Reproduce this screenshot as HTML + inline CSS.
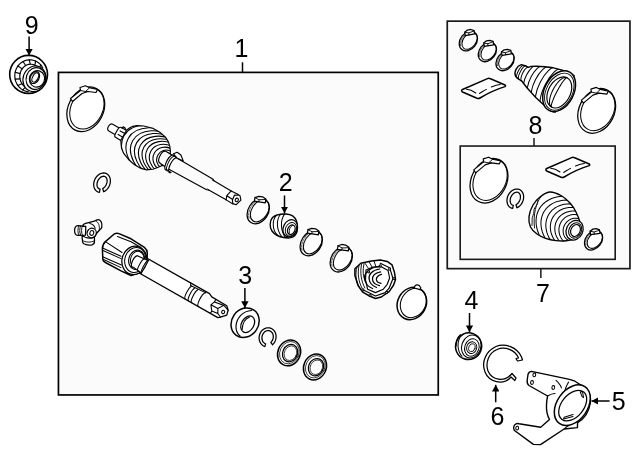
<!DOCTYPE html>
<html><head><meta charset="utf-8">
<style>
html,body{margin:0;padding:0;background:#fff;width:640px;height:471px;overflow:hidden}
svg{position:absolute;left:0;top:0;display:block}
text{font-family:"Liberation Sans",sans-serif;font-size:25px;fill:#000}
svg{transform:translateZ(0)}
</style></head><body>
<svg width="640" height="471" viewBox="0 0 640 471">
<defs>
<marker id="ah" viewBox="0 0 10 10" refX="10" refY="5" markerWidth="6.8" markerHeight="7.4" preserveAspectRatio="none" markerUnits="userSpaceOnUse" orient="auto"><path d="M0,0 L10,5 L0,10 Z" fill="#000"/></marker>
</defs>
<g fill="none" stroke="#000" stroke-width="1.5">
<rect x="58.45" y="72.4" width="379.8" height="322.55" fill="#fbfbfb" stroke-width="1.7"/>
<rect x="447.25" y="21.15" width="182.7" height="247.5" fill="#fbfbfb" stroke="#1a1a1a" stroke-width="1.7"/>
<rect x="460.2" y="146.05" width="155" height="113.3" fill="#fbfbfb" stroke="#1a1a1a" stroke-width="1.6"/>
<line x1="242.5" y1="62.3" x2="242.5" y2="72.4"/>
<line x1="534" y1="138" x2="534" y2="146" stroke="#1a1a1a"/>
<line x1="540.85" y1="269" x2="540.85" y2="278.1" stroke="#1a1a1a"/>
</g>
<text x="31.6" y="33.5" text-anchor="middle">9</text>
<text x="241.5" y="57.3" text-anchor="middle">1</text>
<text x="285.8" y="191.3" text-anchor="middle">2</text>
<text x="245.2" y="283.8" text-anchor="middle">3</text>
<text x="471.4" y="308.8" text-anchor="middle">4</text>
<text x="618.7" y="409.8" text-anchor="middle">5</text>
<text x="497.4" y="424.5" text-anchor="middle">6</text>
<text x="543" y="302" text-anchor="middle">7</text>
<text x="535.5" y="134" text-anchor="middle">8</text>
<g stroke="#000" stroke-width="1.5" fill="none">
<line x1="29.1" y1="36.5" x2="29.1" y2="55.6" marker-end="url(#ah)"/>
<line x1="284.5" y1="195.5" x2="284.5" y2="213.3" marker-end="url(#ah)"/>
<line x1="244.9" y1="288" x2="244.9" y2="308" marker-end="url(#ah)"/>
<line x1="469.5" y1="313" x2="469.5" y2="332.2" marker-end="url(#ah)"/>
<line x1="609.6" y1="401" x2="591.5" y2="401" marker-end="url(#ah)"/>
<line x1="495.7" y1="402.3" x2="495.7" y2="384.8" marker-end="url(#ah)"/>
</g>
<g fill="#fff" stroke="#000" stroke-width="1.15" stroke-linejoin="round" stroke-linecap="round">
<!-- part 9 --><g>
<ellipse cx="28.6" cy="74.4" rx="18.9" ry="19" transform="rotate(0 28.6 74.4)" stroke-width="1.61"/>
<path d="M28.49,91.74 L26.47,91.4 L24.51,90.77 L22.64,89.86 L20.91,88.69 L19.35,87.28 L17.98,85.65 L16.83,83.84 L15.93,81.88 L15.28,79.81 L14.9,77.66 L14.8,75.47 L14.98,73.3 L15.44,71.17 L16.17,69.12 L17.15,67.2 L18.37,65.44 L19.8,63.88 L21.41,62.54 L23.19,61.44 L25.08,60.61 L27.07,60.07 L29.1,59.82 L31.15,59.87 L33.17,60.21 L35.13,60.85 L37,61.76 L38.72,62.94 L40.28,64.36 L41.65,65.99 L42.79,67.8" fill="none" stroke-width="1.15"/>
<path d="M29.66,88.55 L28.2,88.3 L26.79,87.81 L25.45,87.12 L24.2,86.23 L23.08,85.15 L22.09,83.91 L21.26,82.53 L20.61,81.04 L20.14,79.45 L19.87,77.82 L19.8,76.15 L19.93,74.49 L20.26,72.87 L20.79,71.31 L21.49,69.84 L22.37,68.5 L23.4,67.31 L24.56,66.29 L25.84,65.45 L27.2,64.82 L28.63,64.4 L30.1,64.21 L31.57,64.25 L33.03,64.51 L34.44,65 L35.78,65.7 L37.02,66.59 L38.15,67.67 L39.13,68.92 L39.95,70.3" fill="none" stroke-width="1.15"/>
<path d="M22.76,89.93 L25.53,87.17 M17.82,85.43 L21.97,83.74 M15.13,79.13 L20.04,78.94 M15.18,72.2 L20.08,73.66 M17.98,65.95 L22.09,68.89 M22.99,61.54 L25.7,65.53 M29.28,59.81 L30.22,64.21 M35.66,61.07 L34.82,65.17 M40.95,65.09 L38.63,68.24 " fill="none" stroke-width="1.15"/>
<ellipse cx="34.5" cy="78.8" rx="11.4" ry="13" transform="rotate(20 34.5 78.8)" />
<ellipse cx="35.8" cy="78.5" rx="9.6" ry="11" transform="rotate(20 35.8 78.5)" fill="none"/>
<ellipse cx="37" cy="78.9" rx="7.6" ry="8.3" transform="rotate(20 37 78.9)" />
<ellipse cx="34.8" cy="77.6" rx="4.3" ry="6.3" transform="rotate(28 34.8 77.6)" />
<ellipse cx="35.3" cy="77.5" rx="2.7" ry="5" transform="rotate(28 35.3 77.5)" fill="none" stroke-width="1.03"/>
</g>
<g id="bigclamp"><ellipse cx="85.8" cy="109.3" rx="17.6" ry="23.4" transform="rotate(27 85.8 109.3)" stroke-width="1.26"/>
<ellipse cx="86.9" cy="108.5" rx="15.8" ry="21.6" transform="rotate(27 86.9 108.5)" fill="none" stroke-width="1.03"/>
<path d="M70.5,98.5 L80.5,90.5 L80,87.5 L85.5,85.8 L89.5,87.8 L97.5,89.5 L96,92.5 L88,91.5 L82,93.5 L72.5,101.5 Z"/>
<path d="M80.5,90.5 L85.5,91.5 L89.5,87.8 M85.5,91.5 L88,91.5" fill="none" stroke-width="0.92"/></g>
<use href="#bigclamp" transform="translate(403.2,71.4)"/>
<use href="#bigclamp" transform="translate(510.9,1.6)"/>
<!-- upper shaft -->
<g transform="translate(108.1,126.2) rotate(29.5)">
<clipPath id="bootclip"><path d="M18,-5.5 19.5,-9 21.5,-12 25,-14.8 31,-17.8 40,-20.2 48,-20.2 55,-18.8 60,-16.2 63.5,-13 66.5,-9 68.5,-5 68.5,6.5 66,8 63,12 60,15.5 55,19 49.5,20.5 42,20.5 34.5,19 27,16 22.5,12.5 20,9 18,6 Z"/></clipPath>
<path d="M12,-4 L3,-4 A2.6,3.9 0 0 0 3,3.8 L12,3.8"/>
<path d="M11.5,-5.2 L21,-5.6 L21,6.3 L11.5,6 A1.6,5.6 0 0 1 11.5,-5.2 Z"/>
<path d="M13,-5.3 L13.5,-7 L16,-6.8 L16.5,-5.4 M12.8,-1.8 L21,-2 M12.8,2.2 L21,2.4" fill="none"/>
<path d="M117,-4.6 L139,-4.3 L147,-4.6 L147,6.2 L139,6 L117,6" />
<path d="M72,-6.2 L117,-5.6 L119,-4.6 M119,6 L117,6.8 L72,7.5" />
<path d="M139,-4.3 L137.5,2 L139,6 M137.5,2 L146,2.5" fill="none"/>
<path d="M144,-2.4 L148.7,-4.8 L152,-1 L150.2,5.2 L146.7,6 L144.5,3 Z"/>
<ellipse cx="148.3" cy="0.8" rx="1.5" ry="1.8"/>
<path d="M18,-5.5 19.5,-9 21.5,-12 25,-14.8 31,-17.8 40,-20.2 48,-20.2 55,-18.8 60,-16.2 63.5,-13 66.5,-9 68.5,-5 68.5,6.5 66,8 63,12 60,15.5 55,19 49.5,20.5 42,20.5 34.5,19 27,16 22.5,12.5 20,9 18,6 Z"/>
<g clip-path="url(#bootclip)"><path d="M66.5,-6.5 A5.5,7.0 0 0 0 66.5,7.5 M66.5,-9.0 A9.0,9.5 0 0 0 66.5,10.0 M66.5,-11.5 A13.0,12.0 0 0 0 66.5,12.5 M66.5,-14.0 A17.0,14.5 0 0 0 66.5,15.0 M66.5,-16.5 A21.0,17.0 0 0 0 66.5,17.5 M66.5,-18.5 A25.0,19.0 0 0 0 66.5,19.5 M66.5,-20.5 A29.0,21.0 0 0 0 66.5,21.5 M66.5,-22.5 A33.5,23.0 0 0 0 66.5,23.5 M66.5,-24.5 A38.0,25.0 0 0 0 66.5,25.5 M66.5,-26.5 A43.0,27.0 0 0 0 66.5,27.5 M66.5,-28.5 A48.0,29.0 0 0 0 66.5,29.5 " fill="none" stroke-width="1.09"/></g>
<path d="M62.5,-6.6 L72,-6.3 L72,7.3 L63.5,6.5 A3.3,6.6 0 0 1 62.5,-6.6 Z"/>
<path d="M70.5,-8.2 L73,-11.3 L77.5,-10.8 L82.5,-6.8 L75.5,-6.2 Z"/>
<path d="M70.3,-6.8 A3,8 0 0 0 72.8,9 L77.5,9.3 A3,8.2 0 0 1 74.8,-6.4 Z"/>
<path d="M72.3,-6.6 A3,8 0 0 0 74.8,9.1" fill="none" stroke-width="0.92"/>
</g>
<path d="M99.36,192.35 L98.26,192.05 L97.23,191.56 L96.31,190.89 L95.5,190.05 L94.83,189.06 L94.3,187.93 L93.94,186.7 L93.75,185.38 L93.73,184.01 L93.88,182.61 L94.2,181.21 L94.68,179.84 L95.31,178.54 L96.08,177.32 L96.98,176.21 L97.98,175.23 L99.07,174.41 L100.22,173.76 L101.4,173.3 L102.6,173.03 L103.79,172.96 L104.94,173.09 L106.03,173.42 L107.04,173.95 L107.95,174.65 L108.73,175.52 L109.38,176.54 L109.87,177.69 L110.21,178.94 L110.37,180.27 L110.36,181.65 L110.18,183.05 L109.83,184.44 L109.32,185.8 L108.66,187.09 L107.86,188.29 L106.94,189.38 L105.92,190.33 L104.83,191.12 L103.67,191.74 L102.7,188.58 L103.42,188.14 L104.1,187.58 L104.75,186.92 L105.33,186.17 L105.85,185.35 L106.29,184.48 L106.65,183.57 L106.9,182.64 L107.06,181.72 L107.11,180.81 L107.06,179.94 L106.91,179.13 L106.65,178.4 L106.3,177.75 L105.86,177.21 L105.34,176.77 L104.76,176.47 L104.12,176.29 L103.43,176.24 L102.72,176.33 L101.99,176.55 L101.26,176.89 L100.56,177.36 L99.88,177.93 L99.24,178.61 L98.67,179.37 L98.16,180.2 L97.74,181.08 L97.4,182 L97.16,182.92 L97.02,183.85 L96.99,184.75 L97.06,185.61 L97.23,186.41 L97.51,187.13 L97.87,187.76 L98.33,188.28 L98.86,188.69 L99.46,188.98 L100.11,189.13 Z" stroke-width="1.26"/>
<ellipse cx="258.25" cy="211.2" rx="10" ry="13.5" transform="rotate(33 258.25 211.2)" stroke-width="1.26"/>
<ellipse cx="259.74" cy="210.79" rx="7.97" ry="12.15" transform="rotate(33 259.74 210.79)" fill="none" stroke-width="1.03"/>
<path d="M249.14,217.95 L248.9,217.02 L248.75,216.03 L248.69,214.99 L248.72,213.93 L248.85,212.83 L249.06,211.72 L249.37,210.61 L249.76,209.5 L250.23,208.4 L250.77,207.33 L251.39,206.29 L252.08,205.29 L252.83,204.34 L253.63,203.46 L254.48,202.64 L255.37,201.9 L256.3,201.24 L257.24,200.66 L258.2,200.18 L259.17,199.8 L260.13,199.52 L261.09,199.34 L262.02,199.26 L262.93,199.3" fill="none" stroke-width="0.69" stroke-dasharray="2 1.2"/>
<path d="M254.45,201.22 L254.96,197.56 L258.75,196.28 L262.56,196.81 L265.85,199.09 L265.34,202.76 Z" stroke-width="1.26"/>
<path d="M254.96,197.56 L259.09,199.76 L265.8,199.49 M259.09,199.76 L258.8,201.84" fill="none" stroke-width="0.92"/>
<ellipse cx="311.25" cy="243.2" rx="10" ry="13.5" transform="rotate(33 311.25 243.2)" stroke-width="1.26"/>
<ellipse cx="312.74" cy="242.79" rx="7.97" ry="12.15" transform="rotate(33 312.74 242.79)" fill="none" stroke-width="1.03"/>
<path d="M302.14,249.95 L301.9,249.02 L301.75,248.03 L301.69,246.99 L301.72,245.93 L301.85,244.83 L302.06,243.72 L302.37,242.61 L302.76,241.5 L303.23,240.4 L303.77,239.33 L304.39,238.29 L305.08,237.29 L305.83,236.34 L306.63,235.46 L307.48,234.64 L308.37,233.9 L309.3,233.24 L310.24,232.66 L311.2,232.18 L312.17,231.8 L313.13,231.52 L314.09,231.34 L315.02,231.26 L315.93,231.3" fill="none" stroke-width="0.69" stroke-dasharray="2 1.2"/>
<path d="M307.45,233.22 L307.96,229.56 L311.75,228.28 L315.56,228.81 L318.85,231.09 L318.34,234.76 Z" stroke-width="1.26"/>
<path d="M307.96,229.56 L312.09,231.76 L318.8,231.49 M312.09,231.76 L311.8,233.84" fill="none" stroke-width="0.92"/>
<ellipse cx="341.25" cy="259.4" rx="10" ry="13.5" transform="rotate(33 341.25 259.4)" stroke-width="1.26"/>
<ellipse cx="342.74" cy="259" rx="7.97" ry="12.15" transform="rotate(33 342.74 259)" fill="none" stroke-width="1.03"/>
<path d="M332.14,266.15 L331.9,265.22 L331.75,264.23 L331.69,263.19 L331.72,262.13 L331.85,261.03 L332.06,259.92 L332.37,258.81 L332.76,257.7 L333.23,256.6 L333.77,255.53 L334.39,254.49 L335.08,253.49 L335.83,252.54 L336.63,251.66 L337.48,250.84 L338.37,250.1 L339.3,249.44 L340.24,248.86 L341.2,248.38 L342.17,248 L343.13,247.72 L344.09,247.54 L345.02,247.46 L345.93,247.5" fill="none" stroke-width="0.69" stroke-dasharray="2 1.2"/>
<path d="M337.45,249.42 L337.96,245.76 L341.75,244.48 L345.56,245.01 L348.85,247.29 L348.34,250.96 Z" stroke-width="1.26"/>
<path d="M337.96,245.76 L342.09,247.96 L348.8,247.69 M342.09,247.96 L341.8,250.04" fill="none" stroke-width="0.92"/>
<!-- part2 --><g>
<path d="M272.5,217.5 C276,214.5 281,213.8 286,214 C291,214.3 295,217 296.5,221 C298,225 297.8,231 296,234 C294,237.5 289,238.5 284,237.5 C279,236.8 274.5,234.5 272,231 C269.5,227.5 269.5,221 272.5,217.5 Z" stroke-width="1.38"/>
<path d="M276.5,215.2 C272,220 272,230 277.5,235.2 M280.5,214.3 C276,220 276.5,230 281.5,236.4 M284.5,214.1 C280,220.5 280.5,231 285.5,237.6" fill="none" stroke-width="1.03"/>
<ellipse cx="290.2" cy="228.3" rx="6.9" ry="8.9" transform="rotate(25 290.2 228.3)" stroke-width="1.26"/>
<ellipse cx="290.9" cy="229.2" rx="5.4" ry="7" transform="rotate(25 290.9 229.2)" fill="none" stroke-width="0.92"/>
<ellipse cx="291.3" cy="229.7" rx="3.6" ry="4.9" transform="rotate(25 291.3 229.7)" stroke-width="1.26"/>
<path d="M292.5,225.3 C290,226.5 288.8,229.5 289.2,233" fill="none" stroke-width="0.92"/>
</g>
<!-- outboard boot --><g>
<path d="M354.9,268.7 L360.8,263.3 L371.5,260.9 L380.3,259.9 L387.2,261.4 L392,264.8 L394.5,272.6 L395.5,279.4 L393.5,285.3 L389.1,291.6 L381.3,297 L375.4,298.5 L369.6,296 L362.7,292.1 L357.9,285.3 L354.9,275.5 Z" stroke-width="1.49"/>
<path d="M380.3,263.3 L389.6,267.7 L393,278.5 L389.1,288.2 L385.2,292.6 L375.4,296 L368.6,292.6 L362.7,289.7" fill="none" stroke-width="1.15"/>
<path d="M366,270 L373,267 L381.3,266.7 L388.1,270.6 L389.6,278 L387.2,284.3 L383.3,289.2 L375.4,292.6 L367.6,289.2 L365.5,280 Z" stroke-width="1.15"/>
<path d="M378.9,266.3 C369,267.5 363.8,273.5 364.7,279 C365.5,284 368.5,287 372.5,288.5 M379.6,269 C372,270.2 368.5,274.5 369.1,279 C369.6,283 372,285.8 376.5,287.5 M380.6,271.8 C375,273 372.2,276 372.5,279.5 C372.8,282.5 375,284.5 379.5,285.6 M381.5,274.3 C378,275.3 376.2,277.5 376.4,279.8 C376.6,281.5 378,282.8 381,283.4" fill="none" stroke-width="1.26"/>
<path d="M357,267 C355,274 355.5,281 360.5,289.5 M359,265.5 C357.5,273 358,281 362.5,289 M361.5,264.5 C360,272 360.8,280 364.8,288 M364,264 C362.5,270 363,277 365.5,282" fill="none" stroke-width="0.92"/>
<path d="M364.5,262.5 L368.5,268.5 M369,261.5 L372,267 M374,261 L376,266.8" fill="none" stroke-width="0.92"/>
<ellipse cx="380.3" cy="265.8" rx="1" ry="1.1" transform="rotate(0 380.3 265.8)" stroke-width="1.03"/>
<ellipse cx="389.6" cy="268.9" rx="1" ry="1.1" transform="rotate(0 389.6 268.9)" stroke-width="1.03"/>
<ellipse cx="394" cy="278.5" rx="1" ry="1.1" transform="rotate(0 394 278.5)" stroke-width="1.03"/>
<ellipse cx="386.7" cy="292.3" rx="1" ry="1.1" transform="rotate(0 386.7 292.3)" stroke-width="1.03"/>
<ellipse cx="370.1" cy="295.6" rx="1" ry="1.1" transform="rotate(0 370.1 295.6)" stroke-width="1.03"/>
<ellipse cx="362.9" cy="289.9" rx="1" ry="1.1" transform="rotate(0 362.9 289.9)" stroke-width="1.03"/>
<ellipse cx="368.6" cy="271.8" rx="1" ry="1.1" transform="rotate(0 368.6 271.8)" stroke-width="1.03"/>
</g>
<ellipse cx="411.86" cy="303.49" rx="14.24" ry="16.68" transform="rotate(28 411.86 303.49)" stroke-width="1.49"/>
<ellipse cx="413.3" cy="303" rx="12.3" ry="15.2" transform="rotate(28 413.3 303)" fill="none" stroke-width="1.03"/>
<path d="M414.2,288 L415,285.8 C416,284.8 418,284.8 419.3,285.6 L420.8,287.8 L420,289.6 Z" stroke-width="1.15"/>
<!-- tripod --><g>
<path d="M82,236 L82.6,242 C83,244.5 88,245.5 92,244.8 C94,244.3 94.6,243 94.5,241 L94.4,236.5 Z" stroke-width="1.26"/>
<path d="M82.8,240.5 C85,242.5 91,242.8 94.3,240.8" fill="none" stroke-width="0.92"/>
<path d="M83.2,224.5 C86,223 90,222.5 94.4,221.1 L97,219.9 C99,219 101,220.5 101.6,223 C102.2,226 101.6,228.5 100.5,229 L96,234 C95.5,236 94,237.8 91,238 C87,238.2 84,237 83,235.5 Z" stroke-width="1.26"/>
<path d="M96.3,221.2 C98.5,222 99.8,226 99.3,230" fill="none" stroke-width="0.92"/>
<path d="M89.8,223.6 C92.5,224.2 94.5,226 95.2,228.3" fill="none" stroke-width="1.03"/>
<path d="M85.8,226.5 L78,225.6 C75.5,225.5 74.6,228 74.6,230.4 C74.6,233 75.5,235.2 77.8,235.3 L85.5,235.2 Z" stroke-width="1.26"/>
<path d="M78.8,225.9 C77.6,228 77.6,232.8 78.8,235 M80.6,225.9 C79.4,228 79.4,232.8 80.6,235 M82.4,226 C81.2,228 81.2,233 82.4,235.1" fill="none" stroke-width="0.92"/>
<ellipse cx="91.7" cy="233" rx="4.6" ry="4.8" transform="rotate(20 91.7 233)" stroke-width="1.26"/>
<ellipse cx="91.8" cy="233" rx="1.9" ry="2.5" transform="rotate(20 91.8 233)" stroke-width="1.03"/>
</g>
<!-- lower shaft -->
<g transform="translate(223.3,310.95) rotate(29.5)">
<path d="M-101,-8.3 L-20.5,-8.3 L-17,-6.6 L0.5,-6.2 L3.8,-3.1 L5.1,2 L0.5,6.7 L-1.5,8.5 L-101,8.3 Z" stroke-width="1.26"/>
<path d="M-40,-6 A2,7.6 0 0 0 -39.2,8.3 M-36.2,-6.1 A2,7.6 0 0 0 -35.2,8.3 M-32.5,-6.3 A2,7.6 0 0 0 -31.5,8.3 M-24.5,-7.2 A2.2,7.8 0 0 0 -23.5,8.3" fill="none" stroke-width="1.03"/>
<path d="M-42,-8.3 L-41,-6 L-24,-7.2" fill="none" stroke-width="1.03"/>
<path d="M-12.2,-6.3 L-12.2,-3.5 L-13.8,0.8 L-10,5.7 L-10,8.4 M-13.8,0.8 L-6,0.5 M-12.2,-3.5 L-2.3,-5.1 M-6,0.5 L-2.3,-5.1 L3.8,-3.1 M-6,0.5 L-3.5,4.9 L0.5,6.7 M-10,5.7 L-3.5,4.9" fill="none" stroke-width="1.09"/>
<ellipse cx="0.4" cy="1" rx="1.5" ry="1.7" stroke-width="1.03"/>
</g>
<!-- housing --><g>
<path d="M114.5,233.8 C116,233 117.5,233 119,233.6 L131,238.8 L144.4,247.3 C146.5,249 147.3,251 147.3,253 L147,262 L141,272 L131,275.5 L121,270.8 L105.4,262.5 C103.5,261.5 102.8,260 102.8,258.5 L102.4,249 C102.4,246 103,243.8 105.4,241.6 Z" stroke-width="1.49"/>
<path d="M105.4,241.6 L122,252.5 M117.5,236.5 L131,241.8 L141,247.5 M102.5,248 L121,256.3 M103,250.5 L121,258.6 M102.7,256.8 L121.4,265 M103.6,259.5 L121,267.6" fill="none" stroke-width="1.03"/>
<ellipse cx="134.3" cy="260.4" rx="12.3" ry="14.3" transform="rotate(15 134.3 260.4)" stroke-width="1.26"/>
<ellipse cx="135.2" cy="260" rx="10.4" ry="12.6" transform="rotate(15 135.2 260)" fill="none" stroke-width="1.03"/>
<ellipse cx="136.6" cy="259.8" rx="7.8" ry="9.8" transform="rotate(15 136.6 259.8)" stroke-width="1.15"/>
<ellipse cx="137.2" cy="259.6" rx="6.6" ry="8.4" transform="rotate(15 137.2 259.6)" fill="none" stroke-width="0.92"/>
</g>
<g transform="translate(223.3,310.95) rotate(29.5)">
<path d="M-102,-5.8 L-90,-6.8 L-90,7.3 L-100,6.2 A2.5,6 0 0 1 -102,-5.8 Z" stroke-width="1.15"/>
<path d="M-94.6,-6.8 A2,7.5 0 0 0 -93.8,7.6 M-90.2,-7.3 A2,7.8 0 0 0 -89.5,7.9" fill="none" stroke-width="1.03"/>
</g>
<!-- bearing3 --><g>
<ellipse cx="245.1" cy="322.7" rx="13.4" ry="15.4" transform="rotate(35 245.1 322.7)" stroke-width="1.49"/>
<path d="M251.5,310.5 C243,311 236.5,318 236,326 C235.8,330 237,333.5 240,336" fill="none" stroke-width="1.15"/>
<ellipse cx="247.7" cy="324.2" rx="6.2" ry="8.9" transform="rotate(30 247.7 324.2)" stroke-width="1.26"/>
<path d="M249.6,317 C245.5,318.5 242.5,323 242.2,329.5" fill="none" stroke-width="1.03"/>
</g>
<path d="M264.83,346.49 L263.79,346.08 L262.81,345.51 L261.92,344.79 L261.14,343.94 L260.46,342.97 L259.91,341.9 L259.5,340.75 L259.24,339.54 L259.12,338.29 L259.15,337.02 L259.34,335.75 L259.67,334.52 L260.14,333.33 L260.75,332.21 L261.47,331.18 L262.31,330.27 L263.24,329.47 L264.25,328.82 L265.31,328.32 L266.42,327.98 L267.55,327.8 L268.68,327.79 L269.79,327.96 L270.86,328.28 L271.88,328.77 L272.82,329.41 L273.66,330.19 L274.4,331.1 L275.01,332.12 L275.5,333.23 L275.84,334.41 L276.04,335.65 L276.08,336.91 L275.98,338.18 L275.72,339.43 L275.33,340.65 L274.79,341.81 L274.13,342.88 L273.35,343.86 L272.46,344.72 L270.78,342.49 L271.38,341.87 L271.91,341.17 L272.37,340.41 L272.74,339.58 L273.02,338.72 L273.2,337.83 L273.28,336.94 L273.27,336.04 L273.15,335.18 L272.93,334.35 L272.62,333.57 L272.21,332.86 L271.73,332.22 L271.17,331.68 L270.55,331.24 L269.88,330.9 L269.17,330.68 L268.42,330.58 L267.67,330.6 L266.91,330.73 L266.16,330.99 L265.44,331.35 L264.76,331.82 L264.13,332.39 L263.56,333.05 L263.06,333.78 L262.65,334.58 L262.32,335.42 L262.08,336.29 L261.95,337.19 L261.91,338.09 L261.98,338.97 L262.14,339.82 L262.41,340.63 L262.76,341.38 L263.2,342.05 L263.72,342.64 L264.31,343.14 L264.96,343.53 L265.65,343.81 Z" stroke-width="1.26"/>
<ellipse cx="289.1" cy="352.9" rx="11.2" ry="13.2" transform="rotate(25 289.1 352.9)" stroke-width="1.49"/>
<ellipse cx="289.4" cy="352.7" rx="9.5" ry="11.5" transform="rotate(25 289.4 352.7)" fill="none" stroke-width="0.69"/>
<ellipse cx="290.1" cy="353.1" rx="7.4" ry="8.9" transform="rotate(25 290.1 353.1)" fill="none" stroke-width="1.26"/>
<ellipse cx="290.5" cy="353.2" rx="6.1" ry="7.5" transform="rotate(25 290.5 353.2)" fill="none" stroke-width="0.69"/>
<ellipse cx="315" cy="367" rx="11.2" ry="13.2" transform="rotate(25 315 367)" stroke-width="1.49"/>
<ellipse cx="315.3" cy="366.8" rx="9.5" ry="11.5" transform="rotate(25 315.3 366.8)" fill="none" stroke-width="0.69"/>
<ellipse cx="316" cy="367.2" rx="7.4" ry="8.9" transform="rotate(25 316 367.2)" fill="none" stroke-width="1.26"/>
<ellipse cx="316.4" cy="367.3" rx="6.1" ry="7.5" transform="rotate(25 316.4 367.3)" fill="none" stroke-width="0.69"/>
<ellipse cx="468.35" cy="41.2" rx="8.1" ry="10.6" transform="rotate(38 468.35 41.2)" stroke-width="1.26"/>
<ellipse cx="469.62" cy="40.86" rx="6.38" ry="9.45" transform="rotate(38 469.62 40.86)" fill="none" stroke-width="1.03"/>
<path d="M460.75,45.72 L460.62,44.96 L460.56,44.17 L460.57,43.35 L460.66,42.52 L460.82,41.67 L461.06,40.81 L461.36,39.96 L461.73,39.12 L462.17,38.29 L462.67,37.49 L463.22,36.72 L463.83,35.99 L464.48,35.31 L465.17,34.68 L465.89,34.1 L466.64,33.59 L467.41,33.14 L468.19,32.77 L468.98,32.47 L469.77,32.24 L470.56,32.1 L471.32,32.04 L472.07,32.05 L472.79,32.15" fill="none" stroke-width="0.69" stroke-dasharray="2 1.2"/>
<path d="M465.33,35.63 L464.72,32.2 L467.48,30.07 L470.76,29.49 L474.08,30.55 L474.68,33.98 Z" stroke-width="1.26"/>
<path d="M464.72,32.2 L468.72,32.96 L474.14,30.9 M468.72,32.96 L469.07,34.97" fill="none" stroke-width="0.92"/>
<ellipse cx="487.35" cy="52" rx="8.1" ry="10.6" transform="rotate(38 487.35 52)" stroke-width="1.26"/>
<ellipse cx="488.62" cy="51.66" rx="6.38" ry="9.45" transform="rotate(38 488.62 51.66)" fill="none" stroke-width="1.03"/>
<path d="M479.75,56.52 L479.62,55.76 L479.56,54.97 L479.57,54.15 L479.66,53.32 L479.82,52.47 L480.06,51.61 L480.36,50.76 L480.73,49.92 L481.17,49.09 L481.67,48.29 L482.22,47.52 L482.83,46.79 L483.48,46.11 L484.17,45.48 L484.89,44.9 L485.64,44.39 L486.41,43.94 L487.19,43.57 L487.98,43.27 L488.77,43.04 L489.56,42.9 L490.32,42.84 L491.07,42.85 L491.79,42.95" fill="none" stroke-width="0.69" stroke-dasharray="2 1.2"/>
<path d="M484.33,46.43 L483.72,43 L486.48,40.87 L489.76,40.29 L493.08,41.35 L493.68,44.78 Z" stroke-width="1.26"/>
<path d="M483.72,43 L487.72,43.76 L493.14,41.7 M487.72,43.76 L488.07,45.77" fill="none" stroke-width="0.92"/>
<ellipse cx="505.05" cy="61" rx="8.1" ry="10.6" transform="rotate(38 505.05 61)" stroke-width="1.26"/>
<ellipse cx="506.31" cy="60.66" rx="6.38" ry="9.45" transform="rotate(38 506.31 60.66)" fill="none" stroke-width="1.03"/>
<path d="M497.45,65.52 L497.32,64.76 L497.26,63.97 L497.27,63.15 L497.36,62.32 L497.52,61.47 L497.76,60.61 L498.06,59.76 L498.43,58.92 L498.87,58.09 L499.37,57.29 L499.92,56.52 L500.53,55.79 L501.18,55.11 L501.87,54.48 L502.59,53.9 L503.34,53.39 L504.11,52.94 L504.89,52.57 L505.68,52.27 L506.47,52.04 L507.26,51.9 L508.02,51.84 L508.77,51.85 L509.49,51.95" fill="none" stroke-width="0.69" stroke-dasharray="2 1.2"/>
<path d="M502.03,55.43 L501.42,52 L504.18,49.87 L507.46,49.29 L510.78,50.35 L511.38,53.78 Z" stroke-width="1.26"/>
<path d="M501.42,52 L505.42,52.76 L510.84,50.7 M505.42,52.76 L505.77,54.77" fill="none" stroke-width="0.92"/>
<g id="packet"><path d="M462.5,89.5 L487.5,78.6 C488.5,78.2 489.5,78.3 490.5,78.8 L505,85 C505.8,85.5 505.6,86.3 505,86.6 C497,89 489,92.5 480,98 C479,98.6 478,98.7 477,98.3 L462.5,92 C461.3,91.4 461.3,90.1 462.5,89.5 Z" stroke-width="1.49"/><path d="M466.5,89.3 C470,89.5 473,91 475.8,93 M479.5,93.5 C482,92 484,90.5 486.4,89.4 M491.3,87 C494,86 497,85 500.2,84.6" fill="none" stroke-width="1.03"/></g>
<!-- box7 boot --><g>
<g transform="translate(520,71.4) rotate(27.3)">
<clipPath id="b7clip"><path d="M-2,-6.5 L2,-7.6 L5.5,-7.4 L7.5,-9.5 L12,-12 L20,-15.5 L28,-18.5 L36,-20.3 L44,-21.5 L50,-21 L50,20 L46.5,21 L37,19 L26,16 L14,11.5 L8.5,9 L6.5,7.8 L2,7.5 L-1.5,6.5 Z"/></clipPath>
<path d="M-2,-6.5 L2,-7.6 L5.5,-7.4 L7.5,-9.5 L12,-12 L20,-15.5 L28,-18.5 L36,-20.3 L44,-21.5 L50,-21 L50,20 L46.5,21 L37,19 L26,16 L14,11.5 L8.5,9 L6.5,7.8 L2,7.5 L-1.5,6.5 C-3.5,5 -4.5,2 -4.5,0 C-4.5,-2.5 -3.5,-5 -2,-6.5 Z" stroke-width="1.38"/>
<g clip-path="url(#b7clip)"><path d="M11.3,-12.0 A3.8,12.0 0 0 0 11.3,12.0 M17.2,-14.5 A4.8,14.5 0 0 0 17.2,14.5 M23.2,-17.0 A5.7,17.0 0 0 0 23.2,17.0 M29.6,-19.5 A6.7,19.5 0 0 0 29.6,19.5 M35.9,-21.5 A7.4,21.5 0 0 0 35.9,21.5 M42.2,-23.5 A8.2,23.5 0 0 0 42.2,23.5 " fill="none" stroke-width="1.03"/></g>
<path d="M0.5,-7 A2.5,7.2 0 0 0 0.5,7.3 M3,-7.5 A2.5,7.4 0 0 0 3,7.5 M5.3,-7.4 A2.5,7.6 0 0 0 5.8,7.7" fill="none" stroke-width="1.03"/>
</g>
</g>
<ellipse cx="559.1" cy="91.2" rx="14.6" ry="21.8" transform="rotate(27.9 559.1 91.2)" stroke-width="1.49"/>
<ellipse cx="559.3" cy="91.7" rx="13" ry="19.8" transform="rotate(27.9 559.3 91.7)" fill="none" stroke-width="0.92"/>
<ellipse cx="559.3" cy="92.4" rx="11" ry="16.6" transform="rotate(27.9 559.3 92.4)" fill="none" stroke-width="1.15"/>
<path d="M551.53,107.07 L550.95,106.66 L550.45,106.09 L550.06,105.37 L549.76,104.51 L549.57,103.51 L549.48,102.4 L549.51,101.17 L549.64,99.85 L549.87,98.45 L550.21,96.98 L550.65,95.46 L551.18,93.91 L551.81,92.34 L552.51,90.77 L553.29,89.22 L554.14,87.7 L555.04,86.24 L555.98,84.84 L556.97,83.53 L557.98,82.31 L559,81.2 L560.03,80.22 L561.05,79.37 L562.05,78.66 L563.02,78.1 L563.95,77.7 L564.83,77.46 L565.65,77.39 L566.4,77.48 L567.07,77.73 M551.53,107.07 L551.34,106.87 L551.24,106.51 L551.23,105.99 L551.31,105.33 L551.47,104.52 L551.72,103.58 L552.05,102.52 L552.46,101.35 L552.95,100.08 L553.5,98.72 L554.12,97.3 L554.8,95.82 L555.52,94.31 L556.29,92.77 L557.09,91.23 L557.91,89.7 L558.75,88.21 L559.6,86.75 L560.44,85.36 L561.27,84.05 L562.08,82.83 L562.86,81.71 L563.59,80.71 L564.29,79.84 L564.92,79.11 L565.5,78.52 L566,78.09 L566.44,77.81 L566.79,77.69 L567.07,77.73" fill="none" stroke-width="1.03"/>
<use href="#packet" transform="translate(84.2,79)"/>
<path d="M512.61,208.4 L511.51,208.1 L510.48,207.61 L509.56,206.94 L508.75,206.1 L508.08,205.11 L507.55,203.98 L507.19,202.75 L507,201.43 L506.98,200.06 L507.13,198.66 L507.45,197.26 L507.93,195.89 L508.56,194.59 L509.33,193.37 L510.23,192.26 L511.23,191.28 L512.32,190.46 L513.47,189.81 L514.65,189.35 L515.85,189.08 L517.04,189.01 L518.19,189.14 L519.28,189.47 L520.29,190 L521.2,190.7 L521.98,191.57 L522.63,192.59 L523.12,193.74 L523.46,194.99 L523.62,196.32 L523.61,197.7 L523.43,199.1 L523.08,200.49 L522.57,201.85 L521.91,203.14 L521.11,204.34 L520.19,205.43 L519.17,206.38 L518.08,207.17 L516.92,207.79 L515.98,204.73 L516.71,204.28 L517.41,203.71 L518.06,203.04 L518.66,202.29 L519.19,201.46 L519.63,200.57 L519.99,199.65 L520.25,198.71 L520.41,197.77 L520.46,196.84 L520.41,195.96 L520.25,195.14 L519.98,194.39 L519.62,193.73 L519.17,193.18 L518.65,192.74 L518.05,192.42 L517.39,192.24 L516.69,192.19 L515.96,192.28 L515.22,192.5 L514.48,192.85 L513.76,193.32 L513.07,193.9 L512.42,194.59 L511.84,195.36 L511.33,196.2 L510.89,197.09 L510.55,198.02 L510.31,198.97 L510.17,199.9 L510.14,200.82 L510.21,201.69 L510.39,202.5 L510.67,203.24 L511.05,203.88 L511.52,204.41 L512.06,204.83 L512.67,205.12 L513.33,205.28 Z" stroke-width="1.26"/>
<!-- box8 boot --><g>
<clipPath id="b8clip"><path d="M549.5,192 C546,192.25 542.75,194.83 540,197 C537.25,199.17 534.83,201.73 533,205 C531.17,208.27 529.42,212.93 529,216.6 C528.58,220.27 529.17,224.1 530.5,227 C531.83,229.9 534.47,232.12 537,234 C539.53,235.88 542.53,237.2 545.7,238.3 C548.87,239.4 552.62,240.18 556,240.6 C559.38,241.02 562.83,241.15 566,240.8 C569.17,240.45 572.58,239.97 575,238.5 C577.42,237.03 579.58,234.42 580.5,232 C581.42,229.58 581.25,227.33 580.5,224 C579.75,220.67 577.75,215.5 576,212 C574.25,208.5 572.5,205.75 570,203 C567.5,200.25 564.42,197.33 561,195.5 C557.58,193.67 553,191.75 549.5,192 Z" /></clipPath>
<path d="M549.5,192 C546,192.25 542.75,194.83 540,197 C537.25,199.17 534.83,201.73 533,205 C531.17,208.27 529.42,212.93 529,216.6 C528.58,220.27 529.17,224.1 530.5,227 C531.83,229.9 534.47,232.12 537,234 C539.53,235.88 542.53,237.2 545.7,238.3 C548.87,239.4 552.62,240.18 556,240.6 C559.38,241.02 562.83,241.15 566,240.8 C569.17,240.45 572.58,239.97 575,238.5 C577.42,237.03 579.58,234.42 580.5,232 C581.42,229.58 581.25,227.33 580.5,224 C579.75,220.67 577.75,215.5 576,212 C574.25,208.5 572.5,205.75 570,203 C567.5,200.25 564.42,197.33 561,195.5 C557.58,193.67 553,191.75 549.5,192 Z" stroke-width="1.38"/>
<g clip-path="url(#b8clip)"><path d="M568.08,240.2 L567.13,239.54 L566.27,238.77 L565.5,237.91 L564.82,236.96 L564.25,235.93 L563.79,234.84 L563.45,233.7 L563.22,232.52 L563.12,231.31 L563.14,230.08 L563.29,228.85 L563.55,227.64 L563.94,226.45 L564.44,225.3 L565.05,224.2 L565.76,223.17 L566.57,222.21 L567.46,221.34 L568.43,220.56 L569.47,219.88 L570.55,219.32 L571.68,218.87 L572.84,218.54 L574.02,218.34 L575.2,218.27 L576.37,218.33 L577.53,218.51 L578.64,218.82 L579.71,219.25 L580.72,219.8 M566.23,243.17 L564.9,242.25 L563.67,241.19 L562.56,240 L561.58,238.71 L560.74,237.32 L560.05,235.86 L559.52,234.32 L559.14,232.74 L558.94,231.14 L558.91,229.51 L559.04,227.9 L559.35,226.3 L559.82,224.75 L560.45,223.25 L561.23,221.83 L562.15,220.5 L563.21,219.27 L564.4,218.16 L565.69,217.18 L567.08,216.34 L568.54,215.65 L570.08,215.12 L571.66,214.74 L573.26,214.54 L574.89,214.51 L576.5,214.64 L578.1,214.95 L579.65,215.42 L581.15,216.05 L582.57,216.83 M564.65,245.72 L562.93,244.54 L561.33,243.19 L559.88,241.7 L558.58,240.08 L557.46,238.35 L556.52,236.53 L555.78,234.63 L555.24,232.69 L554.92,230.72 L554.81,228.73 L554.91,226.77 L555.22,224.84 L555.75,222.96 L556.48,221.16 L557.4,219.46 L558.51,217.88 L559.8,216.42 L561.25,215.12 L562.84,213.98 L564.55,213.01 L566.38,212.23 L568.29,211.65 L570.27,211.26 L572.3,211.09 L574.34,211.11 L576.39,211.35 L578.42,211.79 L580.4,212.43 L582.32,213.26 L584.15,214.28 M563.07,248.27 L560.91,246.8 L558.9,245.13 L557.06,243.31 L555.41,241.33 L553.96,239.24 L552.75,237.04 L551.76,234.76 L551.03,232.44 L550.55,230.08 L550.33,227.73 L550.38,225.4 L550.69,223.12 L551.26,220.91 L552.08,218.81 L553.15,216.83 L554.45,214.99 L555.97,213.31 L557.69,211.82 L559.6,210.53 L561.66,209.45 L563.87,208.6 L566.19,207.98 L568.6,207.61 L571.08,207.47 L573.59,207.59 L576.11,207.95 L578.61,208.55 L581.06,209.39 L583.45,210.45 L585.73,211.73 M561.49,250.82 L558.9,249.06 L556.47,247.08 L554.24,244.92 L552.24,242.59 L550.47,240.13 L548.97,237.55 L547.75,234.9 L546.81,232.18 L546.18,229.45 L545.86,226.72 L545.86,224.03 L546.16,221.4 L546.78,218.87 L547.69,216.45 L548.9,214.19 L550.39,212.1 L552.14,210.21 L554.14,208.53 L556.36,207.09 L558.77,205.9 L561.36,204.97 L564.09,204.32 L566.93,203.95 L569.86,203.86 L572.83,204.06 L575.82,204.55 L578.8,205.31 L581.73,206.35 L584.57,207.64 L587.31,209.18 M559.91,253.37 L556.83,251.29 L553.95,248.97 L551.29,246.45 L548.89,243.74 L546.76,240.89 L544.94,237.91 L543.44,234.85 L542.28,231.74 L541.47,228.6 L541.03,225.49 L540.94,222.42 L541.23,219.43 L541.88,216.56 L542.88,213.84 L544.23,211.29 L545.91,208.95 L547.9,206.84 L550.18,204.99 L552.73,203.4 L555.52,202.11 L558.51,201.13 L561.67,200.46 L564.98,200.11 L568.39,200.1 L571.86,200.41 L575.37,201.04 L578.86,201.99 L582.3,203.25 L585.66,204.8 L588.89,206.63 M558.33,255.92 L554.77,253.52 L551.43,250.86 L548.35,247.98 L545.54,244.89 L543.06,241.65 L540.92,238.27 L539.14,234.81 L537.75,231.29 L536.76,227.76 L536.19,224.25 L536.03,220.81 L536.29,217.46 L536.97,214.26 L538.07,211.22 L539.55,208.39 L541.43,205.8 L543.66,203.48 L546.23,201.44 L549.1,199.72 L552.26,198.33 L555.66,197.28 L559.26,196.6 L563.03,196.28 L566.92,196.33 L570.9,196.75 L574.91,197.53 L578.92,198.67 L582.88,200.15 L586.74,201.96 L590.47,204.08 " fill="none" stroke-width="1.03"/></g>
<path d="M537,200 C538.5,202 537,205 535,207.5 C533,210 534.5,213 533,215.5 C531.5,218 532.5,221 532,225.5 M541,196.5 C536,203 533,214 534.5,228" fill="none" stroke-width="0.92"/>
<ellipse cx="574.6" cy="230.2" rx="8.2" ry="10.2" transform="rotate(25 574.6 230.2)" stroke-width="1.26"/>
<ellipse cx="575.2" cy="230.4" rx="6.2" ry="8" transform="rotate(25 575.2 230.4)" fill="none" stroke-width="1.03"/>
<ellipse cx="575.5" cy="230.5" rx="4.6" ry="6.2" transform="rotate(25 575.5 230.5)" stroke-width="1.15"/>
</g>
<ellipse cx="593.55" cy="240.3" rx="8" ry="10.6" transform="rotate(38 593.55 240.3)" stroke-width="1.26"/>
<ellipse cx="594.81" cy="239.96" rx="6.28" ry="9.45" transform="rotate(38 594.81 239.96)" fill="none" stroke-width="1.03"/>
<path d="M585.99,244.85 L585.86,244.1 L585.81,243.31 L585.83,242.5 L585.92,241.67 L586.09,240.82 L586.33,239.97 L586.63,239.12 L587.01,238.27 L587.45,237.45 L587.95,236.65 L588.5,235.88 L589.11,235.15 L589.75,234.47 L590.44,233.84 L591.16,233.26 L591.91,232.74 L592.68,232.3 L593.46,231.92 L594.24,231.61 L595.03,231.39 L595.8,231.24 L596.57,231.17 L597.31,231.18 L598.02,231.27" fill="none" stroke-width="0.69" stroke-dasharray="2 1.2"/>
<path d="M590.55,234.6 L590.06,231.16 L592.89,229.12 L596.19,228.66 L599.47,229.83 L599.95,233.28 Z" stroke-width="1.26"/>
<path d="M590.06,231.16 L594.03,232.05 L599.52,230.19 M594.03,232.05 L594.31,234.07" fill="none" stroke-width="0.92"/>
<!-- bearing4 --><g>
<ellipse cx="468.6" cy="346.2" rx="13" ry="13.4" transform="rotate(20 468.6 346.2)" stroke-width="1.49"/>
<path d="M463.5,334.1 C459,337 457.8,342 458,346 C458.3,350.5 459.8,354 462,356.3 M460.4,334.6 C457,337.5 456,342 456.2,346" fill="none" stroke-width="1.03"/>
<ellipse cx="471.3" cy="346.5" rx="9.6" ry="11.7" transform="rotate(20 471.3 346.5)" fill="none" stroke-width="1.03"/>
<ellipse cx="471.85" cy="347.5" rx="7.1" ry="8.9" transform="rotate(20 471.85 347.5)" fill="none" stroke-width="0.98"/>
<ellipse cx="471.7" cy="347.65" rx="5" ry="5.9" transform="rotate(20 471.7 347.65)" fill="none" stroke-width="0.92"/>
<ellipse cx="471.9" cy="347.7" rx="3.1" ry="4.1" transform="rotate(20 471.9 347.7)" fill="none" stroke-width="0.80"/>
</g>
<path d="M521.5,357 C517,347 505,343 496,346.5 C486,351 481,362 485,372 C489,382 503,386 511,377 L514.8,380.5 L516,378 L512,373.5 C504,383 492,380 488,371 C485,362 489,353 497,349.5 C505,346 515,350 518.5,358 L516,358.5 L517.5,361 L522.5,360 Z" stroke-width="1.26"/>
<!-- part5 --><g>
<path d="M531.5,371.4 L569.5,379.4 L575,381.2 L585.8,388.4 C590,393 591,399 590.3,403 C589,412 584,419 577.6,422.7 L577.4,427.6 L564.1,429 L540.5,444.6 L533.4,444.4 L514.5,430.5 C513,428.5 513.5,425 516,423.8 C517,423.5 518,423.5 519,423.7 L540.7,427.2 L549.5,419.5 C547,415 546.2,410 546.5,405 C546.6,401 547,398.5 547.6,396 L529,385.5 C527.5,384.5 527,382 527.2,380 L528,374.5 C528.5,372.5 529.8,371.4 531.5,371.4 Z" stroke-width="1.38"/>
<path d="M556,380.3 C559,383 561,386 561.4,388 M568.6,382.1 C567,385 565.5,388 565,390.3 M547.6,396 C550,394.5 552.5,393.5 555,393.5" fill="none" stroke-width="1.03"/>
<path d="M564.1,429 C566,427 567.5,426 569,425.5" fill="none" stroke-width="1.03"/>
<ellipse cx="572.3" cy="405.2" rx="15.3" ry="22.4" transform="rotate(35.4 572.3 405.2)" stroke-width="1.49"/>
<ellipse cx="572.7" cy="405.6" rx="11.1" ry="17.5" transform="rotate(39 572.7 405.6)" stroke-width="1.26"/>
<path d="M580.3,392.1 L582.5,391.5 L583.5,397.5 L582.1,396.6 Z M573.1,414.6 L564.1,417.3 L563.5,419 L573,416.5" fill="none" stroke-width="1.03"/>
<ellipse cx="534.3" cy="374.9" rx="1.4" ry="1.9" transform="rotate(10 534.3 374.9)" stroke-width="1.03"/>
<ellipse cx="532" cy="382.5" rx="1.4" ry="1.9" transform="rotate(10 532 382.5)" stroke-width="1.03"/>
<ellipse cx="553.3" cy="387.5" rx="1.4" ry="1.9" transform="rotate(10 553.3 387.5)" stroke-width="1.03"/>
<ellipse cx="517.2" cy="428.1" rx="1.4" ry="1.9" transform="rotate(10 517.2 428.1)" stroke-width="1.03"/>
</g>
</g>
</svg>
</body></html>
